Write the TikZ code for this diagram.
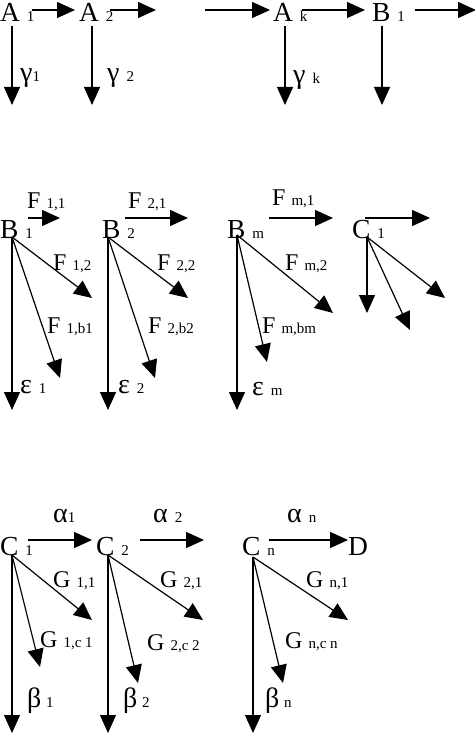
\documentclass[tikz,border=0pt]{standalone}
\usepackage{fontspec}
\setmainfont{Liberation Serif}
\usetikzlibrary{arrows.meta}

\newcommand*{\sub}[1]{{\fontsize{15}{15}\selectfont #1}}

\begin{document}
\begin{tikzpicture}[x=1pt, y=-1pt]
    \tikzstyle{letter} = [inner sep=0pt, anchor=base west, font=\fontsize{27.5}{27.5}\selectfont]
    \tikzstyle{flow} = [inner sep=0pt, anchor=base west, font=\fontsize{24}{24}\selectfont]
    \tikzstyle{greek} = [inner sep=0pt, anchor=base west, font=\fontsize{28}{28}\selectfont]
    \tikzstyle{arrow} = [line width=1.2pt, -{Triangle[length=18pt, width=16pt]}]

    \useasboundingbox (0,0) rectangle (474,735);

    % first row: A_1 ... A_k, B_1
    \node (A1) [letter] at (0,21.5) {A \sub{1}};
    \node (A2) [letter] at (79,21.5) {A \sub{2}};
    \node (Ak) [letter] at (273,21.5) {A \sub{k}};
    \node (B1top) [letter] at (372,21.5) {B \sub{1}};

    \node (gamma1) [greek] at (20,82) {γ\sub{1}};
    \node (gamma2) [greek] at (107,82) {γ \sub{2}};
    \node (gammak) [greek] at (293,84) {γ \sub{k}};

    \foreach \n/\x in {A1/12, A2/92, Ak/285, B1top/382} {
        \coordinate (\n up) at (\x,26);
        \coordinate (\n down) at (\x,105);
        \draw [arrow] (\n up) -- (\n down);
    }

    \coordinate (A1out) at (32,10);
    \coordinate (A2in) at (75,10);
    \coordinate (A2out) at (110,10);
    \coordinate (A2end) at (156,10);
    \coordinate (Akstart) at (205,10);
    \coordinate (Akin) at (270,10);
    \coordinate (Akout) at (302,10);
    \coordinate (B1in) at (365,10);
    \coordinate (B1out) at (415,10);
    \coordinate (B1end) at (476,10);

    \draw [arrow] (A1out) -- (A2in);
    \draw [arrow] (A2out) -- (A2end);
    \draw [arrow] (Akstart) -- (Akin);
    \draw [arrow] (Akout) -- (B1in);
    \draw [arrow] (B1out) -- (B1end);

    % second row: B_1 ... B_m, C_1
    \node (B1) [letter] at (0,238) {B \sub{1}};
    \node (B2) [letter] at (102,238) {B \sub{2}};
    \node (Bm) [letter] at (227,238) {B \sub{m}};
    \node (C1top) [letter] at (352,238) {C \sub{1}};

    \node (F11) [flow] at (27,208) {F \sub{1,1}};
    \node (F12) [flow] at (53,270) {F \sub{1,2}};
    \node (F1b) [flow] at (47,333) {F \sub{1,b1}};
    \node (eps1) [greek] at (20,393) {ε \sub{1}};

    \node (F21) [flow] at (128,208) {F \sub{2,1}};
    \node (F22) [flow] at (157,270) {F \sub{2,2}};
    \node (F2b) [flow] at (148,333) {F \sub{2,b2}};
    \node (eps2) [greek] at (118,393) {ε \sub{2}};

    \node (Fm1) [flow] at (272,205) {F \sub{m,1}};
    \node (Fm2) [flow] at (285,270) {F \sub{m,2}};
    \node (Fmb) [flow] at (262,333) {F \sub{m,bm}};
    \node (epsm) [greek] at (252,395) {ε \sub{m}};

    \coordinate (B1root) at (12,237);
    \coordinate (B2root) at (108,237);
    \coordinate (Bmroot) at (237,235);
    \coordinate (C1root) at (367,237);

    \coordinate (B1down) at (12,410);
    \coordinate (B1a) at (92,298);
    \coordinate (B1b) at (60,378);
    \coordinate (B2down) at (108,410);
    \coordinate (B2a) at (188,298);
    \coordinate (B2b) at (155,378);
    \coordinate (Bmdown) at (237,410);
    \coordinate (Bma) at (333,313);
    \coordinate (Bmb) at (267,362);
    \coordinate (C1down) at (367,313);
    \coordinate (C1a) at (445,298);
    \coordinate (C1b) at (410,330);

    \foreach \n in {B1, B2, Bm, C1} {
        \draw [arrow] (\n root) -- (\n down);
        \draw [arrow] (\n root) -- (\n a);
        \draw [arrow] (\n root) -- (\n b);
    }

    \coordinate (F11s) at (28,218);
    \coordinate (F11e) at (60,218);
    \coordinate (F21s) at (125,218);
    \coordinate (F21e) at (188,218);
    \coordinate (Fm1s) at (269,218);
    \coordinate (Fm1e) at (333,218);
    \coordinate (C1s) at (365,218);
    \coordinate (C1e) at (430,218);

    \draw [arrow] (F11s) -- (F11e);
    \draw [arrow] (F21s) -- (F21e);
    \draw [arrow] (Fm1s) -- (Fm1e);
    \draw [arrow] (C1s) -- (C1e);

    % third row: C_1 ... C_n, D
    \node (C1) [letter] at (0,555) {C \sub{1}};
    \node (C2) [letter] at (96,555) {C \sub{2}};
    \node (Cn) [letter] at (242,555) {C \sub{n}};
    \node (D) [letter] at (348,555) {D};

    \node (alpha1) [greek] at (53,522) {α\sub{1}};
    \node (alpha2) [greek] at (153,522) {α \sub{2}};
    \node (alphan) [greek] at (287,522) {α \sub{n}};

    \node (G11) [flow] at (53,587) {G \sub{1,1}};
    \node (G1c) [flow] at (40,647) {G \sub{1,c 1}};
    \node (beta1) [greek] at (27,707) {β\,\sub{1}};

    \node (G21) [flow] at (160,587) {G \sub{2,1}};
    \node (G2c) [flow] at (147,650) {G \sub{2,c 2}};
    \node (beta2) [greek] at (123,707) {β\,\sub{2}};

    \node (Gn1) [flow] at (306,587) {G \sub{n,1}};
    \node (Gnc) [flow] at (285,648) {G \sub{n,c n}};
    \node (betan) [greek] at (265,707) {β\,\sub{n}};

    \coordinate (C1r) at (12,555);
    \coordinate (C2r) at (108,555);
    \coordinate (Cnr) at (253,557);

    \coordinate (C1rdown) at (12,733);
    \coordinate (C1ra) at (92,620);
    \coordinate (C1rb) at (40,667);
    \coordinate (C2rdown) at (108,733);
    \coordinate (C2ra) at (203,620);
    \coordinate (C2rb) at (138,683);
    \coordinate (Cnrdown) at (253,733);
    \coordinate (Cnra) at (348,620);
    \coordinate (Cnrb) at (283,683);

    \foreach \n in {C1r, C2r, Cnr} {
        \draw [arrow] (\n) -- (\n down);
        \draw [arrow] (\n) -- (\n a);
        \draw [arrow] (\n) -- (\n b);
    }

    \coordinate (alpha1s) at (28,540);
    \coordinate (alpha1e) at (92,540);
    \coordinate (alpha2s) at (140,540);
    \coordinate (alpha2e) at (204,540);
    \coordinate (alphans) at (269,540);

    \draw [arrow] (alpha1s) -- (alpha1e);
    \draw [arrow] (alpha2s) -- (alpha2e);
    \draw [arrow] (alphans) -- (D.west |- alphans);

\end{tikzpicture}
\end{document}
